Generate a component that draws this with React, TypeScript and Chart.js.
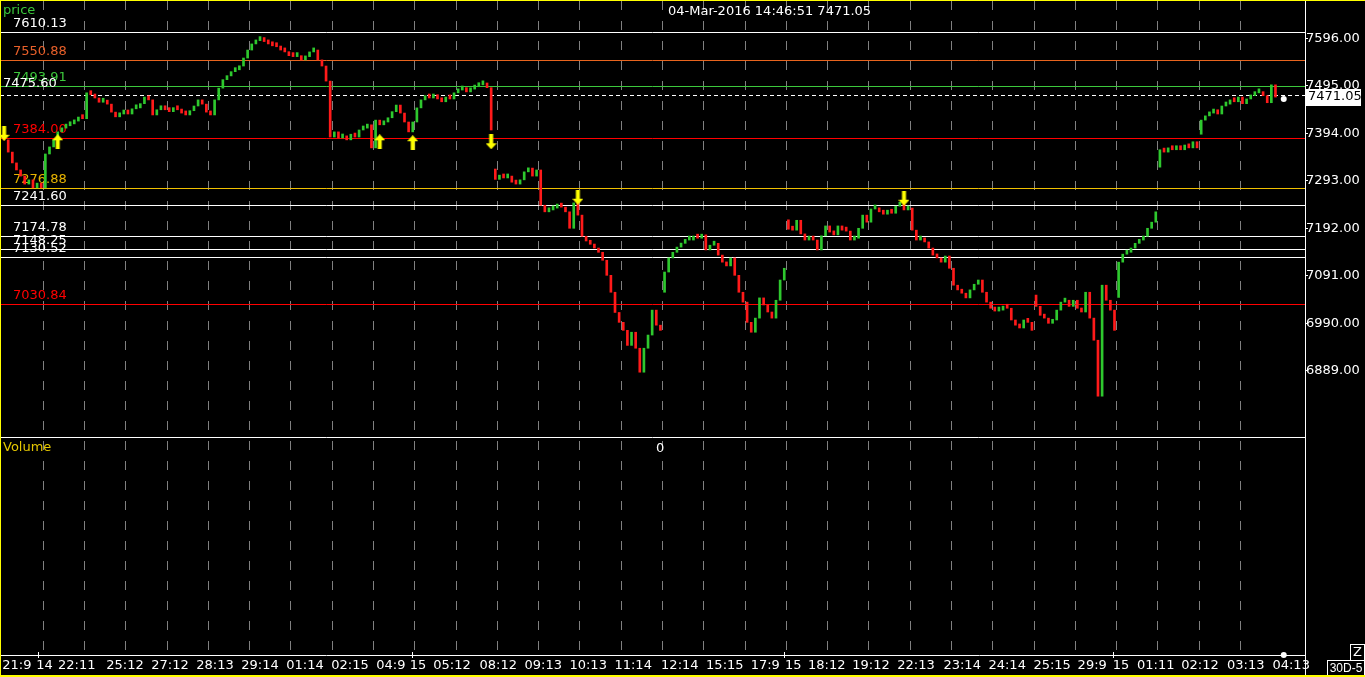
import React, { useEffect, useRef } from 'react';
import { Chart, registerables } from 'chart.js';
Chart.register(...registerables);

// ---- price series (close of each bar) ----
const closes: number[] = [
  7380, 7354, 7331, 7316, 7303, 7286, 7295, 7278, 7288, 7278,
  7350, 7365, 7380, 7397, 7405, 7410, 7414, 7420, 7427, 7425,
  7480, 7476, 7469, 7460, 7463, 7456, 7439, 7429, 7435, 7437,
  7435, 7446, 7448, 7457, 7471, 7465, 7433, 7444, 7450, 7444,
  7440, 7448, 7444, 7437, 7433, 7442, 7452, 7465, 7456, 7439,
  7433, 7465, 7490, 7508, 7516, 7525, 7529, 7537, 7554, 7571,
  7584, 7591, 7597, 7589, 7584, 7580, 7578, 7571, 7567, 7559,
  7557, 7559, 7550, 7557, 7567, 7571, 7550, 7537, 7505, 7386,
  7397, 7384, 7388, 7380, 7392, 7386, 7401, 7405, 7412, 7363,
  7422, 7412, 7418, 7427, 7440, 7454, 7437, 7418, 7397, 7418,
  7448, 7465, 7474, 7469, 7476, 7467, 7461, 7471, 7467, 7480,
  7486, 7491, 7482, 7488, 7493, 7497, 7501, 7491, 7401, 7296,
  7305, 7299, 7303, 7290, 7286, 7295, 7312, 7320, 7303, 7316,
  7241, 7227, 7231, 7235, 7241, 7237, 7227, 7192, 7246, 7220,
  7175, 7165, 7158, 7150, 7141, 7124, 7092, 7056, 7013, 6992,
  6975, 6943, 6971, 6937, 6886, 6937, 6965, 7018, 6986, 6975,
  7099, 7129, 7141, 7152, 7160, 7167, 7167, 7175, 7171, 7178,
  7146, 7156, 7160, 7135, 7120, 7112, 7129, 7092, 7056, 7035,
  6992, 6971, 7001, 7044, 7029, 7014, 7001, 7039, 7082, 7107,
  7190, 7188, 7209, 7180, 7167, 7171, 7167, 7146, 7176, 7197,
  7184, 7178, 7197, 7188, 7186, 7167, 7171, 7192, 7220, 7205,
  7233, 7235, 7227, 7222, 7227, 7224, 7239, 7244, 7231, 7235,
  7188, 7167, 7171, 7163, 7150, 7135, 7129, 7120, 7133, 7107,
  7071, 7061, 7054, 7044, 7061, 7073, 7082, 7056, 7035, 7022,
  7016, 7018, 7026, 7022, 6997, 6986, 6980, 6997, 6992, 6975,
  7026, 7007, 7001, 6990, 6997, 7018, 7035, 7039, 7026, 7039,
  7022, 7014, 7056, 7001, 6954, 6835, 7071, 7039, 7018, 6975,
  7120, 7137, 7141, 7150, 7160, 7167, 7175, 7192, 7205, 7227,
  7359, 7354, 7363, 7359, 7367, 7359, 7369, 7363, 7376, 7363,
  7422, 7431, 7437, 7444, 7435, 7452, 7456, 7465, 7461, 7471,
  7457, 7467, 7474, 7480, 7480, 7474, 7459, 7497, 7471.05,
];
// bars that open away from the previous close (session gaps)
const gapIndex: number[] = [0, 119, 160, 190, 250, 270, 280, 290];
const gapOpen: number[] = [7392, 7318, 7056, 7210, 7050, 7045, 7322, 7392];

// signal arrows
const upArrowIdx: number[] = [13, 91, 99];
const upArrowPrice: number[] = [7376, 7376, 7374];
const downArrowIdx: number[] = [0, 118, 139, 218];
const downArrowPrice: number[] = [7394, 7376, 7258, 7256];

// current marker
const markerIdx = 310;
const markerPrice = 7467;
const lastPrice = 7471.05;

// horizontal levels
const levelValues: number[] = [7610.13, 7550.88, 7493.91, 7475.60, 7384.00, 7276.88, 7241.60, 7174.78, 7148.25, 7130.52, 7030.84];
const levelLineColors: string[] = ['#ffffff', '#e8641e', '#3cc83c', '#ffffff', '#ff0000', '#f0c000', '#ffffff', '#ffffff', '#ffffff', '#ffffff', '#ff0000'];
const levelTextColors: string[] = ['#ffffff', '#e8602a', '#3cc83c', '#ffffff', '#ff0000', '#e8b400', '#ffffff', '#ffffff', '#ffffff', '#ffffff', '#ff0000'];
const levelDashed: boolean[] = [false, false, false, true, false, false, false, false, false, false, false];

// axes
const yTicks: number[] = [6889, 6990, 7091, 7192, 7293, 7394, 7495, 7596];
const gridIdx: number[] = [
  9.5, 19.5, 29.5, 39.5, 49.5, 59.5, 69.5, 79.5, 89.5, 99.5,
  109.5, 119.5, 129.5, 139.5, 149.5, 159.5, 169.5, 179.5, 189.5, 199.5,
  209.5, 219.5, 229.5, 239.5, 249.5, 259.5, 269.5, 279.5, 289.5, 299.5,
];
const xLabelText: string[] = ['21:9', '14', '22:11', '25:12', '27:12', '28:13', '29:14', '01:14', '02:15', '04:9', '15', '05:12', '08:12', '09:13', '10:13', '11:14', '12:14', '15:15', '17:9', '15', '18:12', '19:12', '22:13', '23:14', '24:14', '25:15', '29:9', '15', '01:11', '02:12', '03:13', '04:13'];
const xLabelIdx: number[] = [3.1, 9.8, 17.6, 29.3, 40.2, 51.1, 62.0, 72.9, 83.8, 93.7, 100.3, 108.5, 119.7, 130.6, 141.5, 152.4, 163.7, 174.6, 184.4, 191.2, 199.3, 210.0, 220.9, 232.1, 243.0, 253.9, 263.6, 270.6, 279.0, 289.7, 300.8, 311.8];
const monthTickIdx: number[] = [8.3, 98.7, 188.9, 268.6];

const X_MIN = -0.988;
const X_MAX = 315.15;
const Y_MIN = 6284.7;
const Y_MAX = 7677.4;
const VOLUME_TOP = 6748.2;

const GREEN = '#2ec82e';
const RED = '#ff1a1a';
const FONT = '"DejaVu Sans"';

function makeArrow(up: boolean): HTMLCanvasElement {
  const c = document.createElement('canvas');
  c.width = 11;
  c.height = 15;
  const g = c.getContext('2d')!;
  g.fillStyle = '#ffff00';
  g.beginPath();
  if (up) {
    g.moveTo(5.5, 0); g.lineTo(11, 6); g.lineTo(7.5, 6); g.lineTo(7.5, 15);
    g.lineTo(3.5, 15); g.lineTo(3.5, 6); g.lineTo(0, 6);
  } else {
    g.moveTo(5.5, 15); g.lineTo(11, 9); g.lineTo(7.5, 9); g.lineTo(7.5, 0);
    g.lineTo(3.5, 0); g.lineTo(3.5, 9); g.lineTo(0, 9);
  }
  g.closePath();
  g.fill();
  return c;
}

export default function App() {
  const ref = useRef<HTMLCanvasElement>(null);
  useEffect(() => {
    document.body.style.margin = '0';
    document.body.style.background = '#000';
    const canvas = ref.current!;
    const opens = closes.map((c, i) => {
      const g = gapIndex.indexOf(i);
      return g >= 0 ? gapOpen[g] : closes[i - 1];
    });
    const bars = closes.map((c, i) => ({ x: i, y: [opens[i], c] }));
    const barColors = closes.map((c, i) => (c >= opens[i] ? GREEN : RED));
    const upImg = makeArrow(true);
    const downImg = makeArrow(false);

    const overlay = {
      id: 'overlay',
      beforeDraw(chart: any) {
        const { ctx } = chart;
        ctx.save();
        ctx.fillStyle = '#000';
        ctx.fillRect(0, 0, chart.width, chart.height);
        ctx.restore();
      },
      beforeDatasetsDraw(chart: any) {
        const { ctx, chartArea } = chart;
        const y = chart.scales.y;
        ctx.save();
        ctx.lineWidth = 1;
        const ys = Math.round(y.getPixelForValue(VOLUME_TOP)) + 0.5;
        ctx.strokeStyle = '#ffffff';
        ctx.beginPath(); ctx.moveTo(0, ys); ctx.lineTo(chartArea.right, ys); ctx.stroke();
        levelValues.forEach((v, i) => {
          const py = Math.round(y.getPixelForValue(v)) + 0.5;
          ctx.strokeStyle = levelLineColors[i];
          ctx.setLineDash(levelDashed[i] ? [4, 3] : []);
          ctx.beginPath(); ctx.moveTo(0, py); ctx.lineTo(chartArea.right, py); ctx.stroke();
        });
        ctx.setLineDash([]);
        ctx.font = `13px ${FONT}`;
        ctx.textAlign = 'left';
        ctx.textBaseline = 'alphabetic';
        levelValues.forEach((v, i) => {
          const py = y.getPixelForValue(v);
          ctx.fillStyle = levelTextColors[i];
          const d = levelDashed[i];
          ctx.fillText(v.toFixed(2), d ? 3 : 13, py - (d ? 8 : 5));
        });
        ctx.restore();
      },
      afterDraw(chart: any) {
        const { ctx, chartArea } = chart;
        const x = chart.scales.x;
        const y = chart.scales.y;
        ctx.save();
        ctx.textAlign = 'left';
        ctx.textBaseline = 'alphabetic';
        ctx.font = `13px ${FONT}`;
        ctx.fillStyle = '#3cc83c';
        ctx.fillText('price', 3, 14);
        ctx.fillStyle = '#ffffff';
        ctx.fillText('04-Mar-2016 14:46:51 7471.05', 668, 15);
        ctx.fillStyle = '#e6c800';
        ctx.fillText('Volume', 3, 451);
        ctx.fillStyle = '#ffffff';
        ctx.fillText('0', 656, 452);

        // current price box
        const py = y.getPixelForValue(lastPrice);
        ctx.fillStyle = '#ffffff';
        ctx.fillRect(chartArea.right, Math.round(py - 8.5), 56, 17);
        ctx.fillStyle = '#000000';
        ctx.textBaseline = 'middle';
        ctx.fillText(lastPrice.toFixed(2), chartArea.right + 3, py);

        // month ticks on the time axis
        ctx.strokeStyle = '#ffffff';
        ctx.lineWidth = 1;
        monthTickIdx.forEach((v) => {
          const px = Math.round(x.getPixelForValue(v)) + 0.5;
          ctx.beginPath(); ctx.moveTo(px, chartArea.bottom - 3); ctx.lineTo(px, chartArea.bottom + 3); ctx.stroke();
        });
        // axis line extends down
        const rx = Math.round(chartArea.right) + 0.5;
        ctx.beginPath(); ctx.moveTo(rx, chartArea.bottom); ctx.lineTo(rx, chart.height); ctx.stroke();

        // Z box & period box
        ctx.strokeRect(1350.5, 644.5, 14, 16);
        ctx.strokeRect(1327.5, 660.5, 37, 16);
        ctx.fillStyle = '#ffffff';
        ctx.textAlign = 'center';
        ctx.font = `13px ${FONT}`;
        ctx.fillText('Z', 1357.5, 653);
        ctx.font = '12px "Liberation Sans"';
        ctx.fillText('30D-5', 1346, 669);

        // yellow frame
        ctx.fillStyle = '#ffff00';
        ctx.fillRect(0, 0, chart.width, 1);
        ctx.fillRect(0, 0, 1, chart.height);
        ctx.fillRect(0, chart.height - 2, chart.width, 2);
        ctx.restore();
      },
    };

    const chart = new Chart(canvas, {
      type: 'bar',
      data: {
        datasets: [
          {
            type: 'scatter',
            data: upArrowIdx.map((v, i) => ({ x: v, y: upArrowPrice[i] })),
            pointStyle: upImg as any,
            pointRadius: 7,
            order: 0,
          } as any,
          {
            type: 'scatter',
            data: downArrowIdx.map((v, i) => ({ x: v, y: downArrowPrice[i] })),
            pointStyle: downImg as any,
            pointRadius: 7,
            order: 0,
          } as any,
          {
            type: 'scatter',
            data: [{ x: markerIdx, y: markerPrice }, { x: markerIdx, y: Y_MIN }],
            pointStyle: 'circle',
            pointRadius: 3,
            backgroundColor: '#ffffff',
            borderWidth: 0,
            clip: false,
            order: 0,
          } as any,
          {
            type: 'bar',
            data: bars as any,
            backgroundColor: barColors,
            borderWidth: 0,
            barThickness: 2,
            minBarLength: 4,
            grouped: false,
            order: 1,
          } as any,
        ],
      },
      options: {
        responsive: false,
        animation: false,
        devicePixelRatio: 1,
        events: [],
        layout: { padding: 0, autoPadding: false },
        plugins: { legend: { display: false }, tooltip: { enabled: false } },
        scales: {
          x: {
            type: 'linear',
            position: 'bottom',
            min: X_MIN,
            max: X_MAX,
            offset: false,
            afterBuildTicks: (s: any) => { s.ticks = xLabelIdx.map((v) => ({ value: v })); },
            ticks: {
              autoSkip: false,
              maxRotation: 0,
              minRotation: 0,
              color: '#ffffff',
              font: { family: 'DejaVu Sans', size: 13 },
              padding: 3,
              callback: (_v: any, i: number) => xLabelText[i],
            },
            grid: { display: false, drawTicks: false, offset: false },
            border: { display: true, color: '#ffffff', width: 1 },
            afterFit: (s: any) => { s.height = 22; s.paddingLeft = 0; s.paddingRight = 0; },
          },
          xg: {
            type: 'linear',
            position: 'bottom',
            min: X_MIN,
            max: X_MAX,
            offset: false,
            afterBuildTicks: (s: any) => { s.ticks = gridIdx.map((v) => ({ value: v })); },
            ticks: { display: false },
            grid: { display: true, color: '#808080', lineWidth: 1, drawTicks: false, offset: false },
            border: { display: false, dash: [9, 11], dashOffset: -1 },
            afterFit: (s: any) => { s.height = 0; s.paddingLeft = 0; s.paddingRight = 0; },
          },
          y: {
            type: 'linear',
            position: 'right',
            min: Y_MIN,
            max: Y_MAX,
            afterBuildTicks: (s: any) => { s.ticks = yTicks.map((v) => ({ value: v })); },
            ticks: {
              autoSkip: false,
              color: '#ffffff',
              font: { family: 'DejaVu Sans', size: 13 },
              padding: -2,
              callback: (v: any) => Number(v).toFixed(2),
            },
            grid: { drawOnChartArea: false, drawTicks: true, tickLength: 3, tickColor: '#ffffff' },
            border: { display: true, color: '#ffffff', width: 1 },
            afterFit: (s: any) => { s.width = 60; s.paddingTop = 0; s.paddingBottom = 0; },
          },
        } as any,
      },
      plugins: [overlay],
    });
    return () => chart.destroy();
  }, []);

  return (
    <div style={{ position: 'fixed', left: 0, top: 0, width: 1365, height: 677, background: '#000' }}>
      <canvas ref={ref} width={1365} height={677} style={{ display: 'block', width: 1365, height: 677 }} />
    </div>
  );
}
